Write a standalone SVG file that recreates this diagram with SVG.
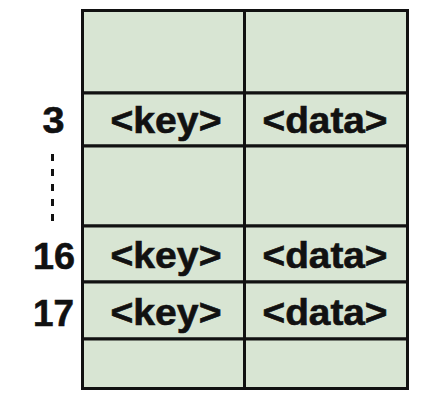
<svg xmlns="http://www.w3.org/2000/svg" width="446" height="410" viewBox="0 0 446 410">
  <style>
    .cell { fill: #d8e5d3; stroke: #111; stroke-width: 3; }
    .t { font-family: "Liberation Sans", Arial, sans-serif; font-weight: bold; font-size: 36px; fill: #111; text-anchor: middle; stroke: #111; stroke-width: 0.6; }
    .dash { stroke: #111; stroke-width: 3; stroke-dasharray: 7 8; fill: none; }
  </style>
  <rect width="446" height="410" fill="#ffffff"/>
  <g id="table">
    <g id="row0">
      <rect class="cell" x="82.5" y="10.5" width="162" height="82.5"/>
      <rect class="cell" x="244.5" y="10.5" width="163" height="82.5"/>
    </g>
    <g id="row3">
      <rect class="cell" x="82.5" y="93" width="162" height="53"/>
      <rect class="cell" x="244.5" y="93" width="163" height="53"/>
      <text class="t" x="166" y="133" textLength="111" lengthAdjust="spacingAndGlyphs">&lt;key&gt;</text>
      <text class="t" x="325" y="133" textLength="125" lengthAdjust="spacingAndGlyphs">&lt;data&gt;</text>
    </g>
    <g id="rowgap">
      <rect class="cell" x="82.5" y="146" width="162" height="80"/>
      <rect class="cell" x="244.5" y="146" width="163" height="80"/>
    </g>
    <g id="row16">
      <rect class="cell" x="82.5" y="226" width="162" height="56"/>
      <rect class="cell" x="244.5" y="226" width="163" height="56"/>
      <text class="t" x="166" y="268" textLength="111" lengthAdjust="spacingAndGlyphs">&lt;key&gt;</text>
      <text class="t" x="325" y="268" textLength="125" lengthAdjust="spacingAndGlyphs">&lt;data&gt;</text>
    </g>
    <g id="row17">
      <rect class="cell" x="82.5" y="282" width="162" height="57"/>
      <rect class="cell" x="244.5" y="282" width="163" height="57"/>
      <text class="t" x="166" y="324.5" textLength="111" lengthAdjust="spacingAndGlyphs">&lt;key&gt;</text>
      <text class="t" x="325" y="324.5" textLength="125" lengthAdjust="spacingAndGlyphs">&lt;data&gt;</text>
    </g>
    <g id="rowlast">
      <rect class="cell" x="82.5" y="339" width="162" height="49.5"/>
      <rect class="cell" x="244.5" y="339" width="163" height="49.5"/>
    </g>
  </g>
  <g id="labels">
    <g id="label3"><text class="t" x="53.5" y="132.5" textLength="22" lengthAdjust="spacingAndGlyphs">3</text></g>
    <g id="label16"><text class="t" x="54" y="269" textLength="42" lengthAdjust="spacingAndGlyphs">16</text></g>
    <g id="label17"><text class="t" x="53.5" y="325.5" textLength="41" lengthAdjust="spacingAndGlyphs">17</text></g>
  </g>
  <g id="connectors">
    <line class="dash" x1="52.5" y1="154" x2="52.5" y2="227"/>
  </g>
</svg>
